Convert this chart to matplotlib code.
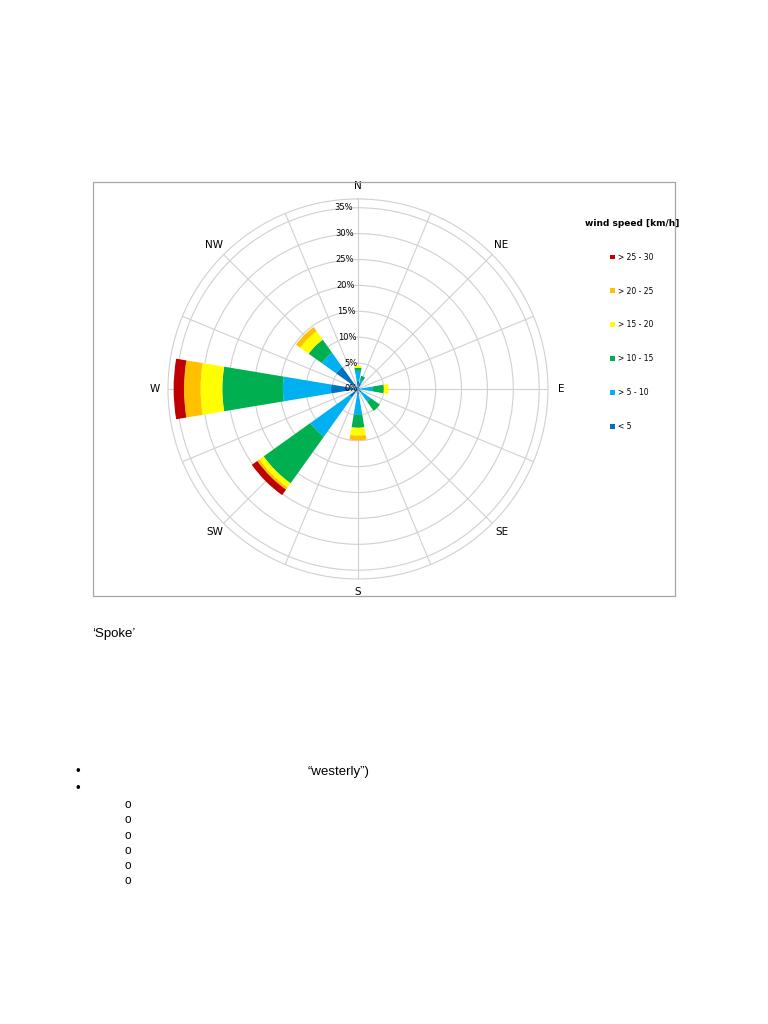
import numpy as np
import matplotlib.pyplot as plt
from matplotlib.patches import Rectangle

directions = ["N", "NNE", "NE", "ENE", "E", "ESE", "SE", "SSE",
              "S", "SSW", "SW", "WSW", "W", "WNW", "NW", "NNW"]
speed_bins = ["< 5", "> 5 - 10", "> 10 - 15", "> 15 - 20", "> 20 - 25", "> 25 - 30"]
colors = ["#0070C0", "#00B0F0", "#00B050", "#FFFF00", "#FFC000", "#C00000"]
# percent frequency per direction for each speed bin
v_lt5   = [1.5, 1.2, 0.3, 0.3, 0.5, 0.3, 0.8, 0.3, 1.0, 0.5, 2.0, 0.5, 5.2, 0.5, 5.2, 0.4]
v_5_10  = [2.0, 0.6, 0.0, 0.0, 2.4, 0.0, 2.2, 0.0, 4.0, 0.0, 9.3, 0.0, 9.3, 0.0, 3.4, 0.0]
v_10_15 = [0.6, 0.8, 0.0, 0.0, 2.1, 0.0, 2.2, 0.0, 2.5, 0.0, 11.1, 0.0, 11.7, 0.0, 3.1, 0.0]
v_15_20 = [0.4, 0.0, 0.0, 0.0, 0.9, 0.0, 0.0, 0.0, 1.5, 0.0, 1.0, 0.0, 4.2, 0.0, 2.0, 0.0]
v_20_25 = [0.0, 0.0, 0.0, 0.0, 0.0, 0.0, 0.0, 0.0, 0.9, 0.0, 0.5, 0.0, 3.2, 0.0, 1.0, 0.0]
v_25_30 = [0.0, 0.0, 0.0, 0.0, 0.0, 0.0, 0.0, 0.0, 0.0, 0.0, 1.3, 0.0, 2.0, 0.0, 0.0, 0.0]
series = [v_lt5, v_5_10, v_10_15, v_15_20, v_20_25, v_25_30]
r_ticks = [0, 5, 10, 15, 20, 25, 30, 35]
main_labels = ["N", "NE", "E", "SE", "S", "SW", "W", "NW"]

fig = plt.figure(figsize=(7.68, 10.24), dpi=100)
fig.patches.append(Rectangle((93/768, 1-596/1024), (675-93)/768, (596-182)/1024,
                             transform=fig.transFigure, fill=False, edgecolor="#A6A6A6", lw=0.9))

ax = fig.add_axes([0.2187, 0.4346, 0.4948, 0.3711], projection="polar")
ax.set_theta_zero_location("N")
ax.set_theta_direction(-1)
theta = np.deg2rad(np.arange(16) * 22.5)
bottom = np.zeros(16)
handles = []
for vals, c, lab in zip(series, colors, speed_bins):
    vals = np.array(vals)
    b = ax.bar(theta, vals, width=0.33, bottom=bottom, color=c, edgecolor="none", label=lab, zorder=3)
    handles.append(b)
    bottom += vals
rmax = 36.7
ax.set_ylim(0, rmax)
ax.set_yticks(r_ticks[1:])
ax.set_yticklabels([])
ax.set_xticks(theta)
ax.set_xticklabels([])
ax.grid(True, color="#D0D0D0", lw=0.8)
ax.spines["polar"].set_color("#D0D0D0")
ax.spines["polar"].set_linewidth(0.8)
for r in r_ticks:
    ax.text(np.deg2rad(-1.6 if r else -6), r, f"{r}%", ha="right", va="center", fontsize=6, zorder=5)
for i, lab in enumerate(main_labels):
    ax.text(np.deg2rad(i * 45), 39.2, lab, ha="center", va="center", fontsize=7.5, clip_on=False)

leg = fig.legend(handles=handles[::-1], loc="upper left", bbox_to_anchor=(578/768, 1-212/1024),
                 frameon=False, fontsize=5.5, title="wind speed [km/h]", labelspacing=3.25,
                 handlelength=0.6, handleheight=0.6, handletextpad=0.4, markerfirst=True)
leg.get_title().set_fontweight("bold")
leg.get_title().set_fontsize(6.5)
leg._legend_box.align = "center"

fig.text(92/768, 1-634/1024, "\u2018Spoke\u2019", fontsize=9.5, va="center", family="Liberation Sans")
fig.text(308/768, 1-772/1024, "\u201cwesterly\u201d)", fontsize=9.5, va="center", family="Liberation Sans")
for y in [772, 789]:
    fig.text(78/768, 1-y/1024, "\u2022", fontsize=9.5, va="center", ha="center", family="Liberation Sans")
for k in range(6):
    fig.text(128/768, 1-(805+15.3*k)/1024, "o", fontsize=8.5, va="center", ha="center", family="Liberation Sans")

fig.savefig("out.png", dpi=100)
